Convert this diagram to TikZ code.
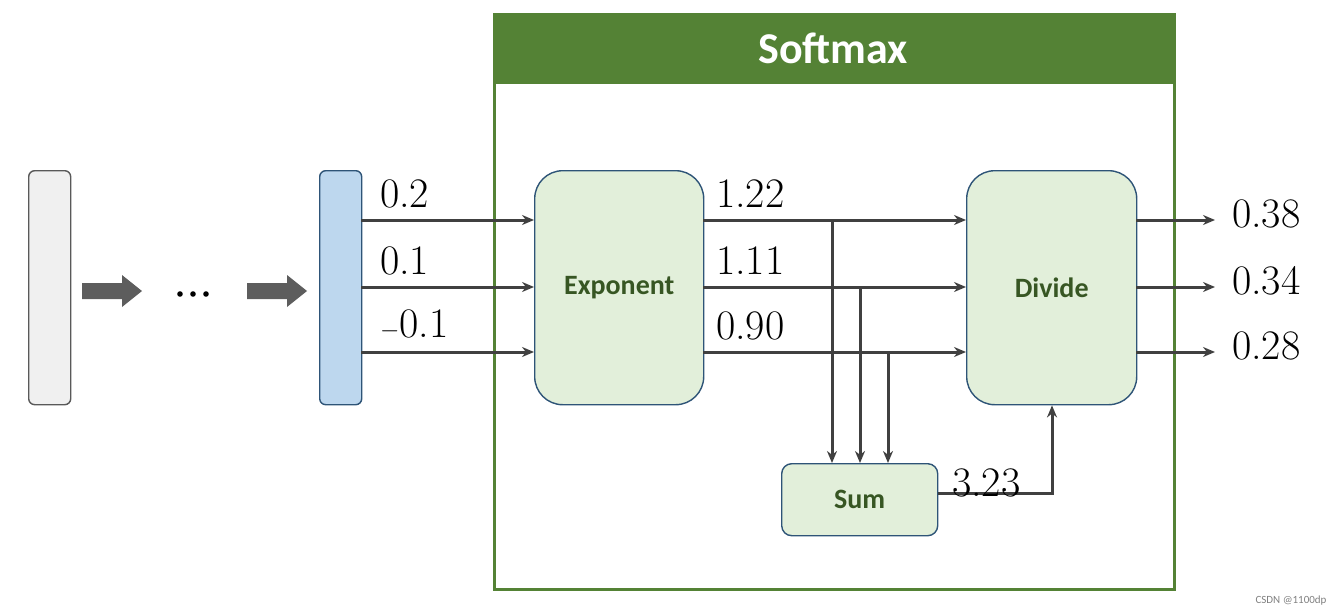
\documentclass[tikz,border=0pt]{standalone}
\usepackage{fontspec}
\setsansfont{Carlito}
\usetikzlibrary{arrows.meta}
\definecolor{hdr}{HTML}{548235}
\definecolor{boxfill}{HTML}{E2EFDA}
\definecolor{boxedge}{HTML}{2E5477}
\definecolor{txt}{HTML}{375623}
\definecolor{ln}{HTML}{404040}
\definecolor{bluef}{HTML}{BDD7EE}
\begin{document}
\begin{tikzpicture}[x=1pt,y=-1pt,
  blk/.style={draw=boxedge,fill=boxfill,rounded corners=28pt,line width=1.4pt,font=\sffamily\bfseries\fontsize{28}{32}\selectfont,text=txt},
  ar/.style={draw=ln,line width=3pt,-{Stealth[length=12pt,width=10pt]}},
  num/.style={font=\fontsize{42}{46}\selectfont,inner sep=0pt},
  fat/.style={fill=ln!85,draw=none}]
\useasboundingbox (0,0) rectangle (1333,615);
\node[draw=hdr,line width=2.6pt,minimum width=680pt,minimum height=575pt,anchor=north west,inner sep=0] (sm) at (493,13) {};
\node[fill=hdr,minimum width=680pt,minimum height=71pt,anchor=north west,inner sep=0,text=white,font=\sffamily\bfseries\fontsize{44}{48}\selectfont] (hd) at (493,13) {Softmax};
\node[draw=gray!70!black,fill=gray!12,rounded corners=6pt,line width=1.4pt,minimum width=42pt,minimum height=234pt,anchor=north west] (g) at (28,170) {};
\node[draw=boxedge,fill=bluef,rounded corners=6pt,line width=1.4pt,minimum width=42pt,minimum height=234pt,anchor=north west] (b) at (319,170) {};
\fill[fat] (82,283) -- (122,283) -- (122,275) -- (142,291) -- (122,307) -- (122,299) -- (82,299) -- cycle;
\fill[fat] (247,283) -- (287,283) -- (287,275) -- (307,291) -- (287,307) -- (287,299) -- (247,299) -- cycle;
\foreach \x in {180,193,206} \fill (\x,294) circle (2.8pt);
\node[blk,minimum width=169pt,minimum height=234pt,anchor=north west] (e) at (534,170) {Exponent};
\node[blk,minimum width=170pt,minimum height=234pt,anchor=north west] (d) at (966,170) {Divide};
\node[blk,rounded corners=10pt,minimum width=156pt,minimum height=72pt,anchor=north west] (s) at (781,463) {Sum};
\foreach \y/\l/\m/\o [count=\i] in {220/0.2/1.22/0.38,287/0.1/1.11/0.34,352/$-$0.1/0.90/0.28}{
  \coordinate (bl\i) at (361,\y); \coordinate (el\i) at (534,\y);
  \coordinate (er\i) at (703,\y); \coordinate (dl\i) at (966,\y);
  \coordinate (dr\i) at (1136,\y); \coordinate (o\i) at (1215,\y);
  \draw[ar] (bl\i) -- (el\i);
  \draw[ar] (er\i) -- (dl\i);
  \draw[ar] (dr\i) -- (o\i);
  \node[num,anchor=south west] (nl\i) at (380,\y-12) {\l};
  \node[num,anchor=south west] (nm\i) at (716,\y-12) {\m};
  \node[num,anchor=west] (no\i) at (1232,\y-6) {\o};
}
\coordinate (v1) at (832,220); \coordinate (v2) at (860,287); \coordinate (v3) at (888,352);
\draw[ar] (v1) -- (v1 |- s.north);
\draw[ar] (v2) -- (v2 |- s.north);
\draw[ar] (v3) -- (v3 |- s.north);
\coordinate (c) at (1052,493);
\draw[ar] (s.east |- c) -- (c) -- (c |- d.south);
\node[num,anchor=south west] (t) at (952,497) {3.23};
\node[font=\sffamily\fontsize{11}{12}\selectfont,text=gray,anchor=east] (w) at (1330,601) {CSDN @1100dp};
\end{tikzpicture}
\end{document}
